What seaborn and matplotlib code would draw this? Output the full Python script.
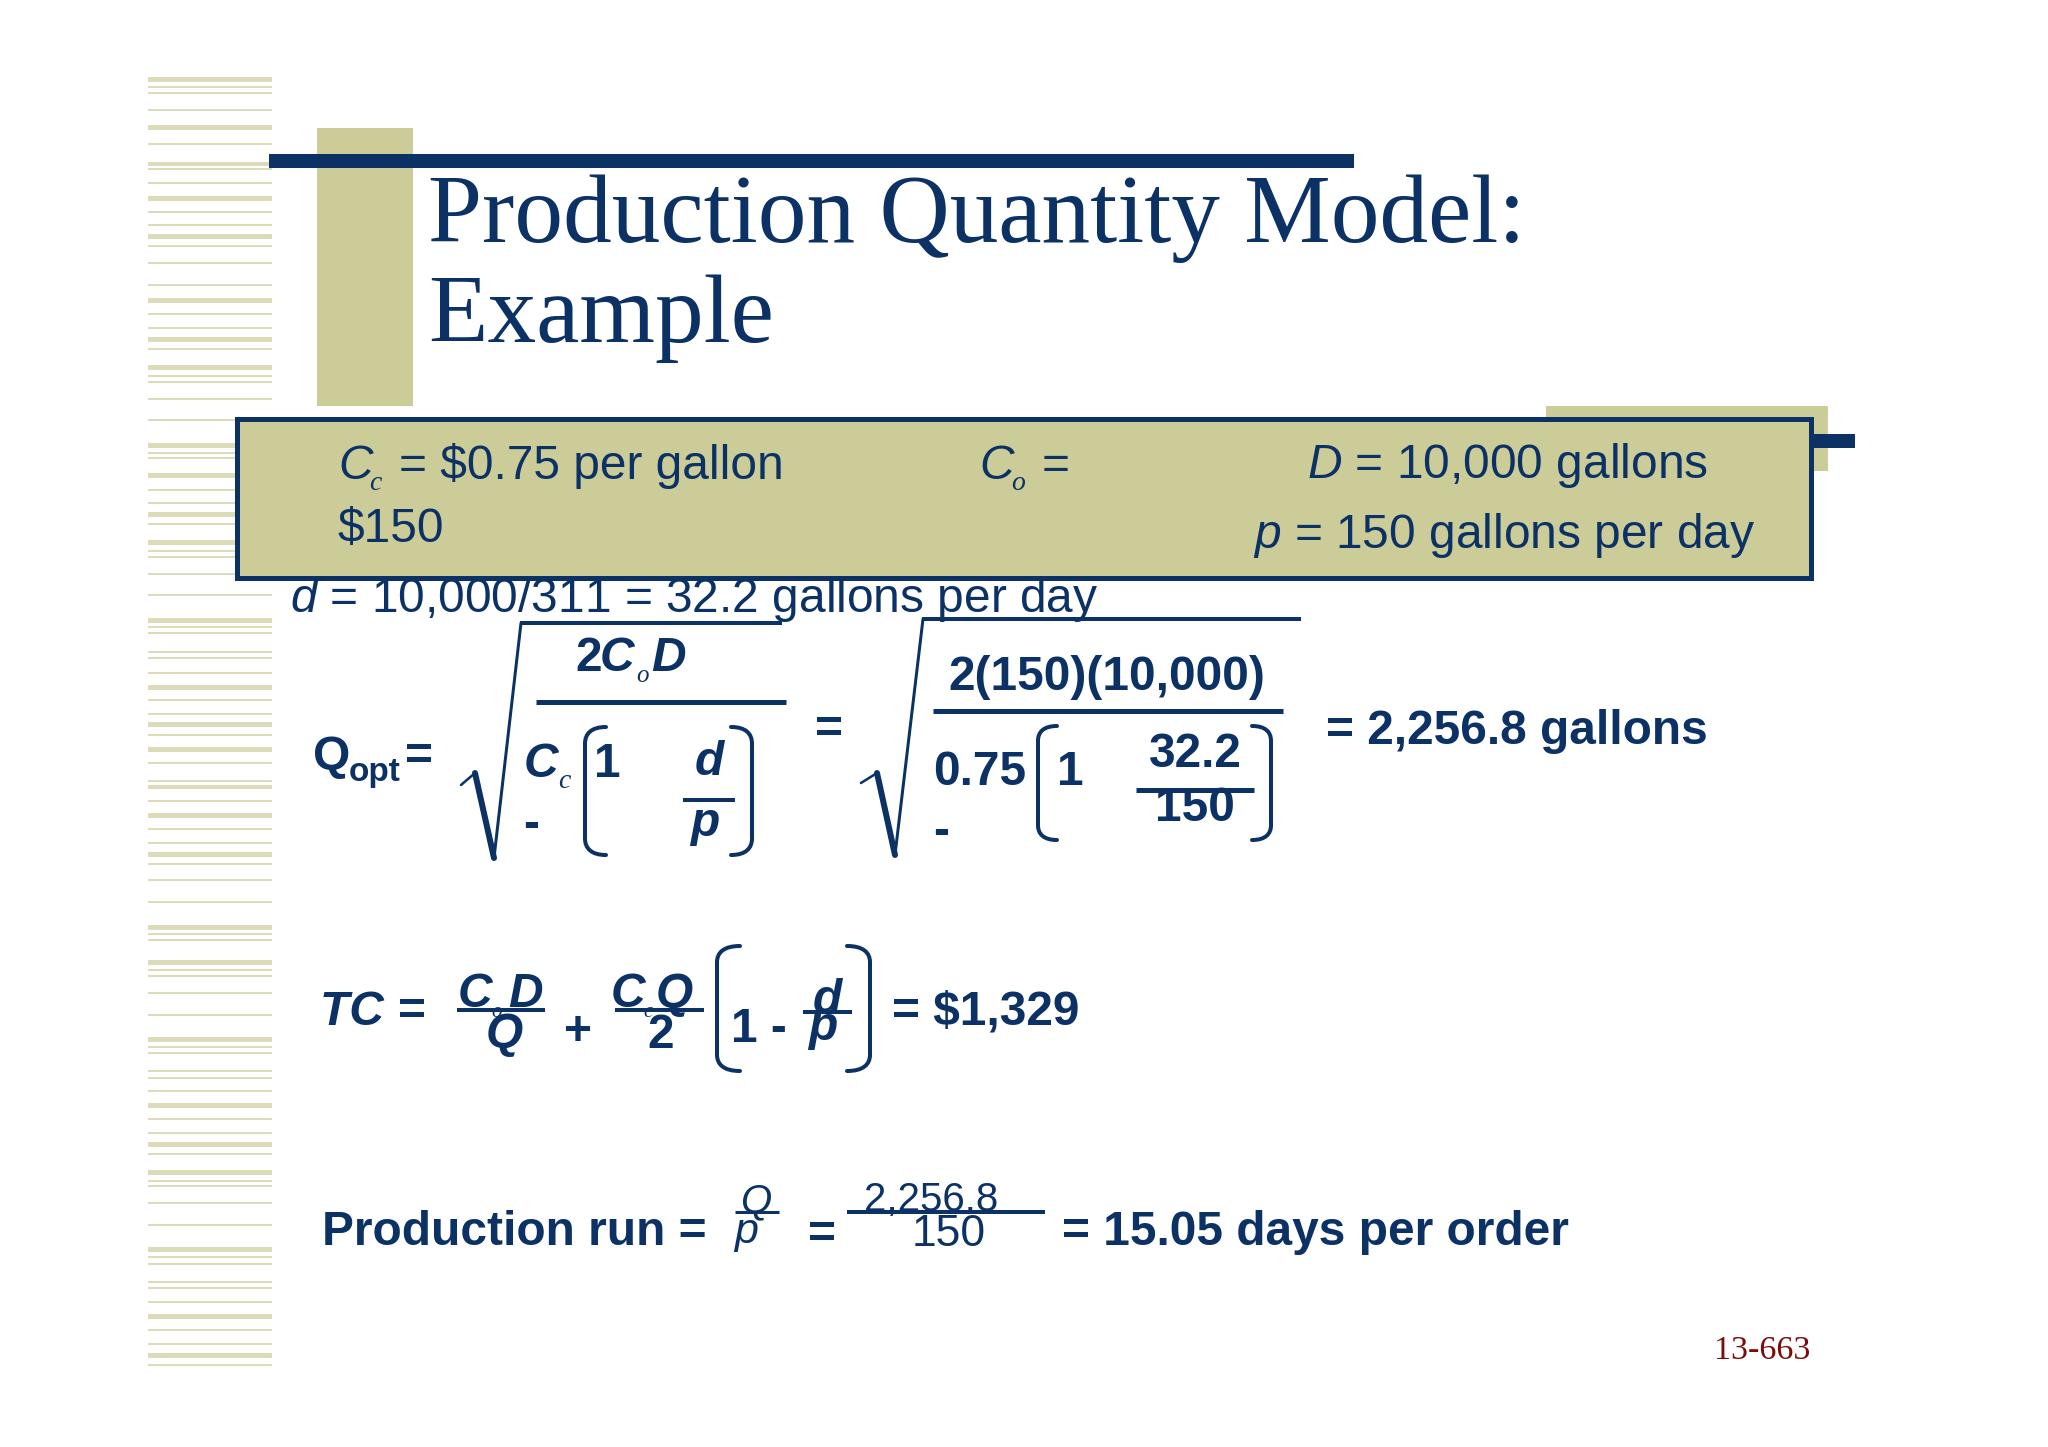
import matplotlib
matplotlib.use("Agg")
import matplotlib.pyplot as plt
import seaborn as sns
from matplotlib.patches import Rectangle, PathPatch
from matplotlib.path import Path

# slide content
title_lines = ["Production Quantity Model:", "Example"]
carrying_cost = "0.75"
ordering_cost = "150"
demand = "10,000"
prod_rate = "150"
work_days = "311"
daily_demand = "32.2"
q_opt = "2,256.8"
total_cost = "1,329"
run_days = "15.05"
page_label = "13-663"

NAVY = "#0b3165"
KHAKI = "#cccc99"
STRIPE = "#dcdcbb"
RED = "#7a0c0c"
SANS = "Liberation Sans"
SERIF = "Liberation Serif"

sns.set_theme(style="white")
plt.rcParams["font.family"] = [SANS, "DejaVu Sans"]
plt.rcParams["mathtext.fontset"] = "custom"
plt.rcParams["mathtext.it"] = "Liberation Sans:italic"
plt.rcParams["mathtext.rm"] = "Liberation Sans"
plt.rcParams["mathtext.bf"] = "Liberation Sans:bold"

fig = plt.figure(figsize=(20.48, 14.47), dpi=100)
ax = fig.add_axes([0, 0, 1, 1])
ax.set_xlim(0, 2048)
ax.set_ylim(1447, 0)
ax.axis("off")

PX = 0.72  # pixels -> points at 100 dpi


def txt(x, y, s, size=34.5, weight="normal", style="normal", family=SANS,
        color=NAVY, ha="left", z=6):
    ax.text(x, y, s, fontsize=size, fontweight=weight, fontstyle=style,
            family=family, color=color, ha=ha, va="baseline", zorder=z)


def bar(x0, x1, y, px=4, z=7):
    ax.plot([x0, x1], [y, y], color=NAVY, lw=px * PX, solid_capstyle="butt", zorder=z)


def paren(x0, x1, y0, y1, left=True, px=4):
    r = min((y1 - y0) * 0.13, 22)
    if left:
        a, b = x1, x0
    else:
        a, b = x0, x1
    verts = [(a, y0), (a + (b - a) * 0.7, y0), (b, y0 + r * 0.4), (b, y0 + r),
             (b, y1 - r),
             (b, y1 - r * 0.4), (a + (b - a) * 0.7, y1), (a, y1)]
    codes = [Path.MOVETO, Path.CURVE4, Path.CURVE4, Path.CURVE4, Path.LINETO,
             Path.CURVE4, Path.CURVE4, Path.CURVE4]
    ax.add_patch(PathPatch(Path(verts, codes), fill=False, ec=NAVY,
                           lw=px * PX, capstyle="round", zorder=7))


def radical(pts):
    (ax_, ay), (bx, by), (cx, cy), (dx, dy), (ex, ey) = pts
    ax.plot([ax_, bx], [ay, by], color=NAVY, lw=2.5 * PX, zorder=7)
    ax.plot([bx, cx], [by, cy], color=NAVY, lw=6 * PX, zorder=7)
    ax.plot([cx, dx], [cy, dy], color=NAVY, lw=3 * PX, zorder=7)
    ax.plot([dx - 1, ex], [dy, ey], color=NAVY, lw=4 * PX,
            solid_capstyle="butt", zorder=7)


# striped band on the left
stripes = [(79, 5), (87, 2), (93, 2), (110, 2), (127, 5), (144, 2), (164, 3.5),
           (169, 2), (183, 2), (198, 5), (212, 2), (225, 2), (236, 5), (246, 2),
           (263, 2), (285, 2), (300, 5), (314, 2), (328, 2), (339, 5), (349, 2),
           (367, 5), (376, 2), (382, 2), (399, 2), (420, 2), (445, 5), (453, 2),
           (458, 2), (475, 5), (490, 2), (503, 2), (514, 5), (524, 2), (542, 5),
           (551, 2), (557, 2), (574, 2), (595, 2), (620, 5), (627, 2), (633, 2),
           (652, 2), (658, 2), (673, 2), (687, 5), (700, 2), (714, 2), (724, 5),
           (735, 2), (749, 5), (763, 2), (781, 2), (787, 3.5), (801, 2), (815, 5),
           (829, 2), (843, 2), (854, 5), (864, 2), (880, 2), (902, 2), (927, 5),
           (934, 2), (940, 2), (962, 5), (970, 2), (976, 2), (993, 2), (1015, 2),
           (1039, 5), (1047, 2), (1053, 2), (1071, 2), (1078, 2), (1091, 2),
           (1105, 5), (1119, 2), (1133, 2), (1144, 5), (1154, 2), (1172, 5),
           (1181, 2), (1186, 2), (1203, 2), (1225, 2), (1249, 5), (1257, 2),
           (1264, 2), (1282, 2), (1288, 2), (1302, 2), (1316, 5), (1330, 2),
           (1344, 2), (1355, 5), (1365, 2)]
for y, h in stripes:
    ax.add_patch(Rectangle((148, y - h / 2), 124, h, fc=STRIPE, ec="none", zorder=1))

# title decoration
ax.add_patch(Rectangle((317, 128), 96, 278, fc=KHAKI, ec="none", zorder=2))
ax.add_patch(Rectangle((269, 154), 1085, 14, fc=NAVY, ec="none", zorder=3))
txt(428, 242, title_lines[0], size=70, family=SERIF)
txt(428, 342, title_lines[1], size=70, family=SERIF)

# given-values box
ax.add_patch(Rectangle((1546, 406), 282, 65, fc=KHAKI, ec="none", zorder=2))
ax.add_patch(Rectangle((1813, 434), 42, 14, fc=NAVY, ec="none", zorder=2))
ax.add_patch(Rectangle((237, 419), 1574, 159, fc=KHAKI, ec=NAVY, lw=5 * PX, zorder=4))

txt(290, 612, rf"$d$ = {demand}/{work_days} = {daily_demand} gallons per day", z=3)

txt(338, 479, "C", style="italic")
txt(369, 490, "c", size=20, style="italic", family=SERIF)
txt(399, 479, rf"= \${carrying_cost} per gallon")
txt(338, 542, rf"\${ordering_cost}")
txt(979, 479, "C", style="italic")
txt(1011, 490, "o", size=20, style="italic", family=SERIF)
txt(1042, 479, "=")
txt(1307, 478, rf"$D$ = {demand} gallons")
txt(1253, 548, rf"$p$ = {prod_rate} gallons per day")

# EOQ formula
B = "bold"
txt(313, 770, "Q", weight=B)
txt(349, 781, "opt", size=24, weight=B)
txt(405, 770, "=", weight=B)

radical([(461, 785), (475, 773), (494, 858), (521, 623), (782, 623)])
txt(575, 671, "2", weight=B)
txt(600, 671, "C", weight=B, style="italic")
txt(636, 682, "o", size=18, style="italic", family=SERIF)
txt(651, 671, "D", weight=B, style="italic")
bar(536, 786, 702, px=5)
txt(524, 777, "C", weight=B, style="italic")
txt(558, 788, "c", size=20, style="italic", family=SERIF)
txt(523, 838, "-", weight=B)
paren(585, 606, 727, 855, left=True)
txt(594, 777, "1", weight=B)
txt(695, 775, "d", weight=B, style="italic")
bar(683, 735, 800, px=4)
txt(690, 836, "p", weight=B, style="italic")
paren(731, 752, 727, 855, left=False)
txt(815, 743, "=", weight=B)

radical([(861, 783), (877, 773), (895, 855), (923, 619), (1301, 619)])
txt(1107, 690, f"2({ordering_cost})({demand})", weight=B, ha="center")
bar(933, 1283, 711, px=5)
txt(933, 785, carrying_cost, weight=B)
txt(933, 845, "-", weight=B)
paren(1038, 1057, 726, 840, left=True)
txt(1057, 785, "1", weight=B)
txt(1195, 767, daily_demand, weight=B, ha="center")
bar(1136, 1254, 790, px=5)
txt(1195, 821, prod_rate, weight=B, ha="center")
paren(1252, 1271, 726, 840, left=False)
txt(1326, 744, f"= {q_opt} gallons", weight=B)

# total cost
txt(320, 1025, "TC =", weight=B, style="italic")
txt(458, 1007, "C", weight=B, style="italic")
txt(491, 1017, "o", size=15, style="italic", family=SERIF)
txt(508, 1007, "D", weight=B, style="italic")
bar(457, 545, 1010, px=4)
txt(486, 1047, "Q", weight=B, style="italic")
txt(564, 1045, "+", weight=B)
txt(611, 1007, "C", weight=B, style="italic")
txt(643, 1017, "c", size=15, style="italic", family=SERIF)
txt(656, 1007, "Q", weight=B, style="italic")
bar(615, 704, 1010, px=4)
txt(647, 1048, "2", weight=B)
paren(717, 740, 946, 1071, left=True)
txt(731, 1042, "1 -", weight=B)
txt(813, 1013, "d", weight=B, style="italic")
bar(803, 852, 1012, px=4)
txt(808, 1040, "p", weight=B, style="italic")
paren(847, 870, 946, 1071, left=False)
txt(892, 1025, rf"= \${total_cost}", weight=B)

# production run
txt(322, 1245, "Production run =", weight=B)
txt(740, 1212, "Q", size=29, style="italic")
bar(735, 779, 1212, px=3)
txt(734, 1243, "p", size=31, style="italic")
txt(808, 1248, "=", weight=B)
txt(864, 1211, q_opt, size=29)
bar(847, 1045, 1212, px=4)
txt(912, 1246, prod_rate, size=32)
txt(1062, 1245, f"= {run_days} days per order", weight=B)

# page number
txt(1810, 1359, page_label, size=24.5, family=SERIF, color=RED, ha="right")

fig.savefig("out.png", dpi=100, facecolor="white")
